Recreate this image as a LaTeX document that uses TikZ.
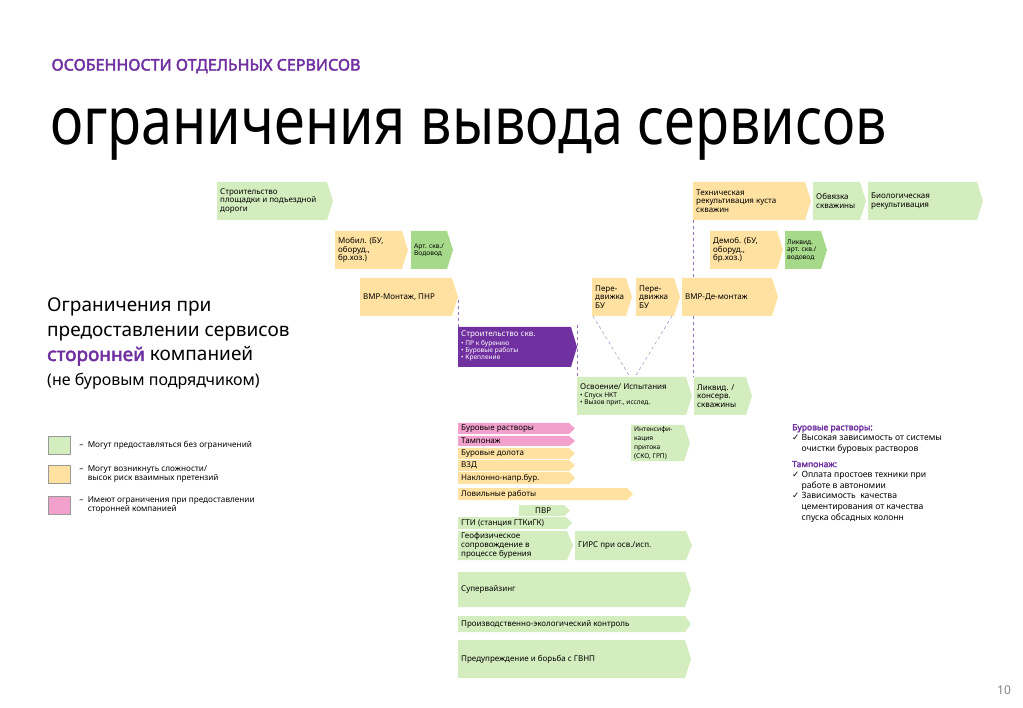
\documentclass[tikz,border=0pt]{standalone}
\usepackage{fontspec}
\setmainfont{Noto Sans}
\newfontfamily\symfont{DejaVu Sans}
\newfontfamily\headfont{Noto Sans}[FakeBold=2.5]
\newcommand\tick{{\symfont ✓}}
\definecolor{okgreen}{HTML}{D3EDBE}
\definecolor{artgreen}{HTML}{A6D98A}
\definecolor{riskorange}{HTML}{FFE2A1}
\definecolor{limpink}{HTML}{F2A0CC}
\definecolor{headpurple}{HTML}{7030A0}
\newcommand\stage[7]{% name, x1, y1, x2, y2, colour, text
  \fill[#6] (#2,#3) -- (#4-6,#3) -- (#4,{(#3+#5)/2}) -- (#4-6,#5) -- (#2,#5) -- cycle;
  \node[stagetext] (#1) at (#2+2,{(#3+#5)/2}) {#7};}
\tikzset{
  stagetext/.style={anchor=west,align=left,inner sep=1pt,font=\fontsize{8}{8.8}\selectfont},
  smalltext/.style={stagetext,font=\fontsize{6.6}{7.2}\selectfont},
  link/.style={headpurple!70,dashed,thin},
  legendbox/.style={draw=black!40,minimum width=22,minimum height=18,inner sep=0},
}
\begin{document}
\begin{tikzpicture}[x=1pt,y=-1pt]
  \useasboundingbox (0,0) rectangle (1023,708);
  % headings
  \node[anchor=west,text=headpurple,font=\headfont\fontsize{16}{18}\selectfont] (kicker) at (48,66) {ОСОБЕННОСТИ ОТДЕЛЬНЫХ СЕРВИСОВ};
  \node[anchor=base west,inner sep=0,xscale=0.845,font=\fontsize{66}{70}\selectfont] (title) at (50,145) {ограничения вывода сервисов};
  \node[anchor=north west,align=left,inner sep=0,font=\fontsize{19}{24.5}\selectfont] (intro) at (47,298)
    {Ограничения при\\предоставлении сервисов\\{\color{headpurple}\headfont сторонней} компанией\\{\fontsize{16}{20}\selectfont(не буровым подрядчиком)}};
  % legend
  \node[legendbox,fill=okgreen] (lg1) at (59,445) {};
  \node[legendbox,fill=riskorange] (lg2) at (59,474) {};
  \node[legendbox,fill=limpink] (lg3) at (59,505) {};
  \node[stagetext,anchor=west,font=\fontsize{8.2}{9.5}\selectfont] at ([xshift=8]lg1.east) {--~ Могут предоставляться без ограничений};
  \node[stagetext,anchor=west,font=\fontsize{8.2}{9.5}\selectfont] at ([xshift=8]lg2.east) {--~ Могут возникнуть сложности/\\\phantom{--~ }высок риск взаимных претензий};
  \node[stagetext,anchor=west,font=\fontsize{8.2}{9.5}\selectfont] at ([xshift=8]lg3.east) {--~ Имеют ограничения при предоставлении\\\phantom{--~ }сторонней компанией};
  % connectors behind the stages
  \coordinate (mont) at (458,300); \coordinate (skvtop) at (458,327);
  \coordinate (skvend) at (577,325); \coordinate (osvtop) at (577,377);
  \coordinate (rekul) at (693,220); \coordinate (likvtop) at (693,377);
  \draw[link] (mont) -- (skvtop);
  \draw[link] (skvend) -- (osvtop);
  \draw[link] (rekul) -- (likvtop);
  \draw[link] (593,316) -- (630,377);
  \draw[link] (672,316) -- (635,377);
  % stages
  \stage{plosh}{217}{182}{333}{220}{okgreen}{Строительство\\площадки и подъездной\\дороги}
  \stage{mobil}{335}{231}{408}{269}{riskorange}{Мобил. (БУ,\\оборуд.,\\бр.хоз.)}
  \fill[artgreen] (411,231) -- (447,231) -- (453,250) -- (447,269) -- (411,269) -- cycle;
  \node[smalltext] (artskv) at (413,250) {Арт. скв./\\Водовод};
  \stage{vmrm}{360}{278}{458}{316}{riskorange}{ВМР-Монтаж, ПНР}
  \fill[headpurple] (458,327) -- (571,327) -- (577,347) -- (571,367) -- (458,367) -- cycle;
  \node[stagetext,text=white,font=\fontsize{8}{7}\selectfont] (stroi) at (460,346)
    {Строительство скв.\\[1pt]{\fontsize{6.6}{6.8}\selectfont\textbullet\ ПР к бурению}\\{\fontsize{6.6}{6.8}\selectfont\textbullet\ Буровые работы}\\{\fontsize{6.6}{6.8}\selectfont\textbullet\ Крепление}};
  \stage{pered1}{592}{278}{632}{316}{riskorange}{Пере-\\движка\\БУ}
  \stage{pered2}{636}{278}{680}{316}{riskorange}{Пере-\\движка\\БУ}
  \stage{vmrd}{682}{278}{778}{316}{riskorange}{ВМР-Де-монтаж}
  \stage{tehrek}{693}{182}{811}{220}{riskorange}{Техническая\\рекультивация куста\\скважин}
  \stage{obv}{813}{182}{866}{220}{okgreen}{Обвязка\\скважины}
  \stage{biorek}{868}{182}{983}{220}{okgreen}{Биологическая\\рекультивация}
  \stage{demob}{710}{231}{783}{269}{riskorange}{Демоб. (БУ,\\оборуд.,\\бр.хоз.)}
  \fill[artgreen] (785,231) -- (821,231) -- (827,250) -- (821,269) -- (785,269) -- cycle;
  \node[smalltext] (likvart) at (786,250) {Ликвид.\\арт. скв./\\водовод};
  \fill[okgreen] (577,377) -- (686,377) -- (692,396) -- (686,415) -- (577,415) -- cycle;
  \node[stagetext,font=\fontsize{8}{7}\selectfont] (osv) at (579,395)
    {Освоение/ Испытания\\[1pt]{\fontsize{6.6}{6.8}\selectfont\textbullet\ Спуск НКТ}\\{\fontsize{6.6}{6.8}\selectfont\textbullet\ Вызов прит., исслед.}};
  \stage{likv}{694}{377}{752}{415}{okgreen}{Ликвид. /\\консерв.\\скважины}
  \stage{rastv}{458}{423}{575}{434}{limpink}{Буровые растворы}
  \stage{tamp}{458}{436}{575}{446}{limpink}{Тампонаж}
  \stage{dolota}{458}{448}{575}{459}{riskorange}{Буровые долота}
  \stage{vzd}{458}{460}{575}{471}{riskorange}{ВЗД}
  \stage{nakl}{458}{472}{575}{484}{riskorange}{Наклонно-напр.бур.}
  \stage{lovil}{458}{488}{633}{500}{riskorange}{Ловильные работы}
  \stage{intens}{631}{425}{690}{461}{okgreen}{\fontsize{6.6}{7}\selectfont Интенсифи-\\\fontsize{6.6}{7}\selectfont кация\\\fontsize{6.6}{7}\selectfont притока\\\fontsize{6.6}{7}\selectfont(СКО, ГРП)}
  \fill[okgreen] (519,505) -- (564,505) -- (570,510.5) -- (564,516) -- (519,516) -- cycle;
  \node[stagetext] (pvr) at (534,510.5) {ПВР};
  \stage{gti}{458}{517}{572}{529}{okgreen}{ГТИ (станция ГТКиГК)}
  \stage{geof}{458}{531}{573}{560}{okgreen}{Геофизическое\\сопровождение в\\процессе бурения}
  \stage{girs}{575}{531}{692}{560}{okgreen}{ГИРС при осв./исп.}
  \stage{superv}{458}{572}{691}{607}{okgreen}{Супервайзинг}
  \stage{pek}{458}{616}{691}{632}{okgreen}{Производственно-экологический контроль}
  \stage{gvnp}{458}{640}{691}{678}{okgreen}{Предупреждение и борьба с ГВНП}
  % notes
  \node[anchor=north west,align=left,inner sep=0,font=\fontsize{8.6}{10.6}\selectfont] (notes) at (792,424)
    {{\color{headpurple}\headfont Буровые растворы:}\\
     \tick\ Высокая зависимость от системы\\\phantom{\tick\ }очистки буровых растворов\\[5pt]
     {\color{headpurple}\headfont Тампонаж:}\\
     \tick\ Оплата простоев техники при\\\phantom{\tick\ }работе в автономии\\
     \tick\ Зависимость\ \ качества\\\phantom{\tick\ }цементирования от качества\\\phantom{\tick\ }спуска обсадных колонн};
  \node[text=black!50,font=\fontsize{12}{14}\selectfont] (page) at (1004,690) {10};
\end{tikzpicture}
\end{document}
